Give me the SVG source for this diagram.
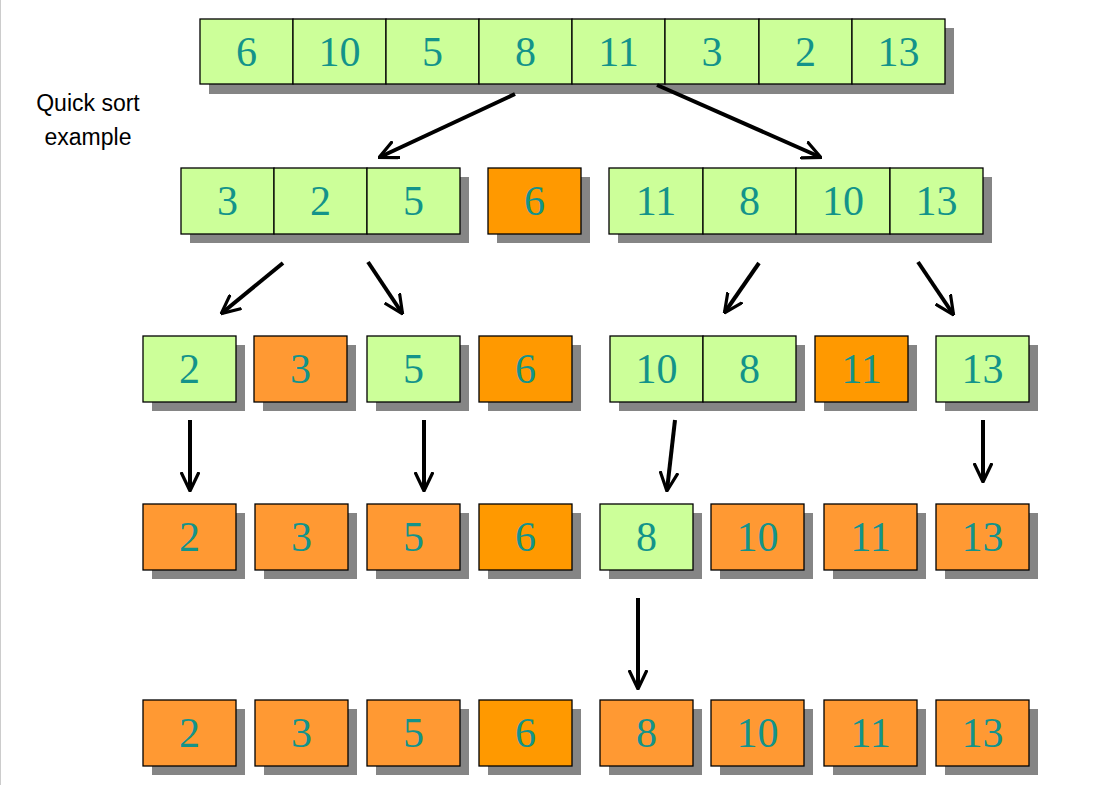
<svg xmlns="http://www.w3.org/2000/svg" width="1114" height="785" viewBox="0 0 1114 785">
<defs>
<style>
.sh{fill:#858585}
.g{fill:#CCFF99;stroke:#000;stroke-width:1.3}
.o{fill:#FF9933;stroke:#000;stroke-width:1.3}
.p{fill:#FF9900;stroke:#000;stroke-width:1.3}
.t{font-family:"Liberation Serif",serif;font-size:42px;fill:#13938A;text-anchor:middle}
.a{stroke:#000;stroke-width:4;fill:none;marker-end:url(#ah)}
</style>
<marker id="ah" viewBox="0 0 10 10" refX="9" refY="5" markerWidth="5" markerHeight="5" orient="auto" markerUnits="strokeWidth"><path d="M0,0.5 L9.5,5 L0,9.5" fill="none" stroke="#000" stroke-width="1.6"/></marker>
</defs>
<rect width="1114" height="785" fill="#fff"/>
<line x1="0.5" y1="0" x2="0.5" y2="785" stroke="#ccc"/>
<text x="88" y="111" font-family="Liberation Sans,Arial,sans-serif" font-size="23" text-anchor="middle">Quick sort</text>
<text x="88" y="145" font-family="Liberation Sans,Arial,sans-serif" font-size="23" text-anchor="middle">example</text>
<g id="row1">
<rect class="sh" x="209" y="28" width="745" height="66"/>
<rect class="g" x="200" y="19" width="93" height="65"/><text class="t" x="246.5" y="66">6</text>
<rect class="g" x="293" y="19" width="93" height="65"/><text class="t" x="339.5" y="66">10</text>
<rect class="g" x="386" y="19" width="93" height="65"/><text class="t" x="432.5" y="66">5</text>
<rect class="g" x="479" y="19" width="93" height="65"/><text class="t" x="525.5" y="66">8</text>
<rect class="g" x="572" y="19" width="93" height="65"/><text class="t" x="618.5" y="66">11</text>
<rect class="g" x="665" y="19" width="94" height="65"/><text class="t" x="712" y="66">3</text>
<rect class="g" x="759" y="19" width="93" height="65"/><text class="t" x="805.5" y="66">2</text>
<rect class="g" x="852" y="19" width="93" height="65"/><text class="t" x="898.5" y="66">13</text>
</g>
<g id="row2">
<rect class="sh" x="190" y="177" width="279" height="66"/>
<rect class="g" x="181" y="168" width="93" height="66"/><text class="t" x="227.5" y="215">3</text>
<rect class="g" x="274" y="168" width="93" height="66"/><text class="t" x="320.5" y="215">2</text>
<rect class="g" x="367" y="168" width="93" height="66"/><text class="t" x="413.5" y="215">5</text>
<rect class="sh" x="497" y="177" width="93" height="66"/>
<rect class="p" x="488" y="168" width="93" height="66"/><text class="t" x="534.5" y="215">6</text>
<rect class="sh" x="618" y="177" width="374" height="66"/>
<rect class="g" x="609" y="168" width="94" height="66"/><text class="t" x="656" y="215">11</text>
<rect class="g" x="703" y="168" width="93" height="66"/><text class="t" x="749.5" y="215">8</text>
<rect class="g" x="796" y="168" width="94" height="66"/><text class="t" x="843" y="215">10</text>
<rect class="g" x="890" y="168" width="93" height="66"/><text class="t" x="936.5" y="215">13</text>
</g>
<g id="row3">
<rect class="sh" x="152" y="345" width="93" height="66"/><rect class="g" x="143" y="336" width="93" height="66"/><text class="t" x="189.5" y="383">2</text>
<rect class="sh" x="263" y="345" width="93" height="66"/><rect class="o" x="254" y="336" width="93" height="66"/><text class="t" x="300.5" y="383">3</text>
<rect class="sh" x="376" y="345" width="93" height="66"/><rect class="g" x="367" y="336" width="93" height="66"/><text class="t" x="413.5" y="383">5</text>
<rect class="sh" x="488" y="345" width="93" height="66"/><rect class="p" x="479" y="336" width="93" height="66"/><text class="t" x="525.5" y="383">6</text>
<rect class="sh" x="619" y="345" width="186" height="66"/>
<rect class="g" x="610" y="336" width="93" height="66"/><text class="t" x="656.5" y="383">10</text>
<rect class="g" x="703" y="336" width="93" height="66"/><text class="t" x="749.5" y="383">8</text>
<rect class="sh" x="824" y="345" width="93" height="66"/><rect class="p" x="815" y="336" width="93" height="66"/><text class="t" x="861.5" y="383">11</text>
<rect class="sh" x="945" y="345" width="93" height="66"/><rect class="g" x="936" y="336" width="93" height="66"/><text class="t" x="982.5" y="383">13</text>
</g>
<g id="row4">
<rect class="sh" x="152" y="513" width="93" height="66"/><rect class="o" x="143" y="504" width="93" height="66"/><text class="t" x="189.5" y="551">2</text>
<rect class="sh" x="264" y="513" width="93" height="66"/><rect class="o" x="255" y="504" width="93" height="66"/><text class="t" x="301.5" y="551">3</text>
<rect class="sh" x="376" y="513" width="93" height="66"/><rect class="o" x="367" y="504" width="93" height="66"/><text class="t" x="413.5" y="551">5</text>
<rect class="sh" x="488" y="513" width="93" height="66"/><rect class="p" x="479" y="504" width="93" height="66"/><text class="t" x="525.5" y="551">6</text>
<rect class="sh" x="609" y="513" width="93" height="66"/><rect class="g" x="600" y="504" width="93" height="66"/><text class="t" x="646.5" y="551">8</text>
<rect class="sh" x="720" y="513" width="93" height="66"/><rect class="o" x="711" y="504" width="93" height="66"/><text class="t" x="757.5" y="551">10</text>
<rect class="sh" x="833" y="513" width="93" height="66"/><rect class="o" x="824" y="504" width="93" height="66"/><text class="t" x="870.5" y="551">11</text>
<rect class="sh" x="945" y="513" width="93" height="66"/><rect class="o" x="936" y="504" width="93" height="66"/><text class="t" x="982.5" y="551">13</text>
</g>
<g id="row5">
<rect class="sh" x="152" y="709" width="93" height="66"/><rect class="o" x="143" y="700" width="93" height="66"/><text class="t" x="189.5" y="747">2</text>
<rect class="sh" x="264" y="709" width="93" height="66"/><rect class="o" x="255" y="700" width="93" height="66"/><text class="t" x="301.5" y="747">3</text>
<rect class="sh" x="376" y="709" width="93" height="66"/><rect class="o" x="367" y="700" width="93" height="66"/><text class="t" x="413.5" y="747">5</text>
<rect class="sh" x="488" y="709" width="93" height="66"/><rect class="p" x="479" y="700" width="93" height="66"/><text class="t" x="525.5" y="747">6</text>
<rect class="sh" x="609" y="709" width="93" height="66"/><rect class="o" x="600" y="700" width="93" height="66"/><text class="t" x="646.5" y="747">8</text>
<rect class="sh" x="720" y="709" width="93" height="66"/><rect class="o" x="711" y="700" width="93" height="66"/><text class="t" x="757.5" y="747">10</text>
<rect class="sh" x="833" y="709" width="93" height="66"/><rect class="o" x="824" y="700" width="93" height="66"/><text class="t" x="870.5" y="747">11</text>
<rect class="sh" x="945" y="709" width="93" height="66"/><rect class="o" x="936" y="700" width="93" height="66"/><text class="t" x="982.5" y="747">13</text>
</g>
<g id="connectors">
<line class="a" x1="515" y1="94" x2="380" y2="157"/>
<line class="a" x1="657" y1="85" x2="820" y2="157"/>
<line class="a" x1="283" y1="263" x2="222" y2="313"/>
<line class="a" x1="368" y1="262" x2="402" y2="313"/>
<line class="a" x1="759" y1="263" x2="725" y2="312"/>
<line class="a" x1="918" y1="262" x2="953" y2="314"/>
<line class="a" x1="190" y1="420" x2="190" y2="490"/>
<line class="a" x1="424" y1="420" x2="424" y2="490"/>
<line class="a" x1="675" y1="420" x2="667" y2="490"/>
<line class="a" x1="983" y1="420" x2="983" y2="481"/>
<line class="a" x1="638" y1="598" x2="638" y2="688"/>
</g>
</svg>
